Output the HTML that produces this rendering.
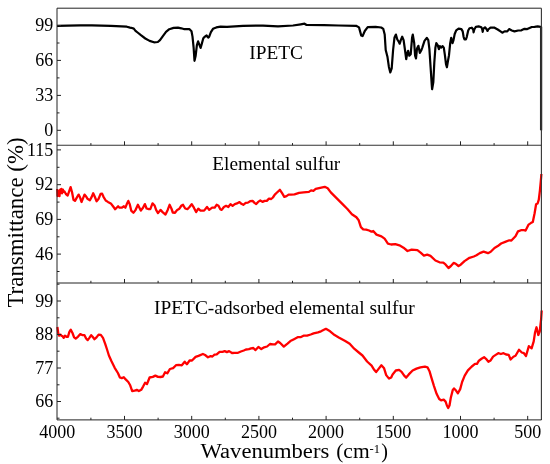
<!DOCTYPE html><html><head><meta charset="utf-8"><style>html,body{margin:0;padding:0;background:#fff;width:550px;height:464px;overflow:hidden}svg{display:block}text{font-family:"Liberation Serif","Times New Roman",serif;fill:#000}</style></head><body><svg width="550" height="464" viewBox="0 0 550 464"><path d="M57.0 25.9L68.0 25.6L80.3 25.4L91.9 25.3L110.8 25.9L126.8 26.7L130.0 27.6L131.2 27.8L133.8 28.6L135.5 30.8L137.6 32.5L140.9 35.2L145.3 38.5L149.6 40.9L154.0 42.3L157.8 42.0L160.0 40.1L162.7 36.3L166.0 31.9L169.3 29.2L173.6 27.9L178.0 27.7L181.3 28.3L184.5 29.2L187.8 29.2L189.3 29.0L191.5 31.2L192.5 36.6L193.6 47.3L194.5 60.8L195.6 56.0L196.9 45.2L198.1 41.4L199.5 45.2L200.6 47.9L201.7 44.1L203.3 38.2L204.9 36.6L206.6 35.5L208.2 37.6L209.2 36.6L210.9 32.2L213.0 28.8L216.3 27.4L220.6 26.6L227.0 26.9L243.0 25.8L263.0 25.6L278.0 26.3L293.0 25.5L300.8 24.3L304.5 23.7L306.6 25.0L324.1 25.2L338.6 25.5L356.1 25.8L359.0 27.4L361.2 35.4L362.6 36.1L364.8 31.0L367.7 27.2L375.6 26.8L381.2 27.5L383.3 28.9L384.7 34.6L385.7 50.0L387.5 57.1L388.9 66.9L390.3 72.5L391.7 68.3L393.1 50.0L394.5 37.4L395.9 34.6L397.3 39.5L398.7 41.6L399.7 43.7L400.8 40.2L402.2 36.7L403.6 40.2L405.0 50.0L406.2 59.2L407.2 53.6L408.1 50.8L409.3 55.7L410.7 54.3L412.1 37.4L412.8 34.6L414.2 43.0L415.1 55.7L416.0 58.5L417.0 48.6L418.4 45.8L419.8 52.9L421.2 50.5L422.3 47.6L424.5 40.8L426.8 37.8L428.3 40.1L429.4 49.2L430.6 67.3L431.8 85.4L432.1 89.2L433.3 82.4L434.3 62.7L435.4 47.6L436.3 43.1L437.8 45.4L438.9 49.2L439.9 46.1L441.1 47.6L442.6 46.1L443.8 47.6L444.9 55.2L446.0 64.2L446.9 67.3L447.9 61.2L449.0 55.2L450.2 43.1L451.2 37.8L452.5 43.1L453.5 40.1L454.7 34.0L456.2 30.3L458.6 28.6L461.4 29.1L462.7 31.4L463.6 36.8L464.5 39.5L465.9 39.5L466.8 36.8L468.2 30.5L469.5 28.2L471.8 27.7L473.2 29.5L473.6 32.3L474.3 29.5L475.9 26.8L478.6 26.4L481.4 27.3L482.3 29.5L482.7 31.8L483.4 28.6L485.0 27.3L486.8 29.5L487.5 30.9L488.2 29.5L490.5 27.7L494.1 27.5L497.7 29.5L500.5 31.4L502.3 32.7L504.5 31.4L507.3 31.4L509.1 29.1L511.8 30.5L514.5 31.4L518.2 30.5L521.4 30.3L524.5 28.8L527.3 29.1L531.8 27.0L534.5 26.8L537.7 26.4L540.5 26.8L541.0 27.5" stroke="#000" stroke-width="2.2" fill="none" stroke-linejoin="round"/><path d="M541.1 26.7V130.3" stroke="#2a2a2a" stroke-width="2.3" fill="none"/><path d="M57.3 189.0L57.6 196.0L58.3 194.7L59.0 191.1L59.5 196.2L60.2 189.6L60.8 192.5L61.4 188.9L62.1 193.3L62.9 189.6L63.6 191.8L64.5 191.5L65.9 194.0L67.7 195.5L69.2 191.1L70.6 187.1L72.1 192.5L73.5 199.8L75.0 200.9L76.8 197.6L78.6 194.6L80.1 197.6L81.5 202.0L83.0 198.4L84.5 194.6L85.9 196.2L87.4 198.7L89.9 200.2L91.7 196.9L93.2 193.3L94.8 196.8L96.6 201.2L98.5 199.0L100.6 193.9L102.1 193.6L103.5 196.8L105.7 200.5L107.9 201.9L110.8 203.4L113.0 206.3L115.2 209.2L118.1 206.3L119.5 207.7L121.7 207.7L123.9 206.3L125.4 207.7L126.8 204.1L128.3 200.9L129.7 204.1L131.2 210.6L133.4 212.8L135.3 210.4L137.9 204.8L140.8 210.6L143.0 207.7L144.9 204.1L146.6 208.5L148.8 209.2L150.3 209.2L152.5 203.4L154.6 205.5L156.1 209.9L158.0 213.1L160.5 209.9L162.6 212.1L165.5 214.6L167.7 209.9L169.6 204.8L171.4 208.5L172.8 212.5L175.0 212.8L177.2 209.9L179.4 208.7L181.5 205.5L183.0 204.8L185.2 208.5L187.4 209.2L189.5 207.0L191.7 204.1L193.9 207.7L196.1 212.1L198.3 208.7L200.5 210.6L204.1 210.6L207.0 207.0L209.2 209.9L212.1 207.7L214.7 207.7L216.6 204.8L218.5 205.8L220.3 209.2L221.7 209.9L223.9 207.0L226.1 205.8L228.3 207.0L230.5 204.1L232.6 205.8L234.8 204.1L237.0 203.4L239.5 202.1L241.4 203.8L243.3 204.8L245.7 202.9L247.9 202.6L250.1 201.2L252.6 200.9L254.5 202.9L256.2 204.1L258.1 201.9L260.3 200.5L262.5 201.9L264.6 200.9L266.8 200.9L269.0 198.6L271.2 199.0L272.9 197.5L274.8 194.6L277.0 192.5L279.9 189.8L282.1 193.2L284.3 196.8L286.5 196.1L288.6 194.6L291.0 194.6L294.5 194.3L299.1 192.8L303.6 192.4L308.9 191.9L311.1 190.4L313.4 190.8L315.7 188.9L320.2 187.8L324.7 186.8L327.7 188.3L330.8 192.4L333.8 195.4L338.3 199.9L342.8 204.4L347.4 209.0L351.9 214.2L356.4 217.3L358.7 220.3L360.9 227.1L363.2 229.3L366.2 229.6L369.1 230.5L371.5 231.7L373.2 231.0L376.5 234.6L381.4 236.3L384.6 238.7L387.9 243.6L391.2 244.5L395.3 244.1L399.4 245.3L403.5 247.7L407.5 251.0L411.6 249.7L417.4 250.2L420.6 252.6L423.9 255.6L427.2 254.6L430.5 255.9L435.4 260.5L439.5 262.3L443.3 262.7L445.5 264.4L448.5 268.0L450.9 266.0L453.6 262.9L455.8 263.8L458.5 266.0L460.7 264.7L464.5 261.1L469.5 257.8L473.8 256.5L476.5 255.3L479.8 253.1L483.6 251.6L485.8 252.4L488.0 253.2L490.7 251.8L494.5 248.0L497.8 246.1L501.1 243.5L505.2 241.9L509.3 240.3L511.4 240.5L515.5 236.2L518.0 231.4L521.0 230.2L524.0 230.2L525.6 230.6L528.6 224.6L530.8 223.1L532.8 222.0L534.6 213.3L536.1 204.2L537.6 203.5L538.8 199.7L539.9 190.6L540.9 180.1L541.4 174.0" stroke="#f00" stroke-width="2.3" fill="none" stroke-linejoin="round"/><path d="M57.4 327.0L58.3 333.5L59.1 335.7L60.5 334.6L61.5 335.7L62.6 336.3L63.7 337.9L65.0 335.7L66.5 336.8L67.9 336.8L69.4 331.9L70.8 329.7L72.5 333.0L74.1 337.4L75.7 338.5L77.9 336.8L80.3 334.1L82.8 335.2L84.5 335.2L86.1 338.5L87.7 340.1L89.4 337.9L91.2 335.2L92.6 336.8L94.5 339.2L96.5 337.4L98.6 334.6L100.8 334.9L103.0 337.9L105.2 343.9L107.2 350.0L108.9 355.5L111.5 361.3L114.7 367.8L117.9 373.0L119.9 377.5L121.8 378.1L123.8 377.2L125.7 379.4L128.3 382.0L130.2 385.3L132.2 391.1L134.7 390.7L136.7 389.8L138.9 391.1L141.2 389.8L143.1 386.6L145.1 382.7L147.0 384.0L149.6 377.5L152.8 376.9L155.4 375.6L158.0 376.9L160.5 377.0L162.9 376.5L165.1 372.2L167.3 373.3L169.9 369.0L173.1 368.1L176.0 365.2L178.9 364.9L181.8 365.3L184.7 361.7L186.9 364.2L189.8 360.3L192.0 360.5L195.6 356.9L198.5 355.9L202.9 354.0L205.1 355.0L208.0 357.3L210.2 356.2L212.4 356.5L214.5 354.7L216.7 354.4L219.6 351.8L222.5 351.8L224.7 351.1L226.9 352.1L229.1 351.1L232.0 353.0L234.9 352.8L238.0 352.8L240.9 351.5L243.8 350.5L246.0 349.5L248.9 349.1L251.1 348.3L253.3 348.0L255.5 350.1L258.4 346.9L261.3 349.1L264.2 347.3L267.1 346.5L270.0 344.0L272.9 344.4L275.1 344.4L278.0 341.5L280.2 343.0L283.8 346.6L287.5 343.6L290.4 341.1L294.0 339.2L297.6 337.2L300.5 337.2L303.5 335.7L307.1 335.7L310.7 334.5L313.6 333.4L318.0 332.4L321.0 331.3L325.9 328.8L330.1 331.3L334.6 335.1L339.2 337.8L345.2 341.1L349.7 343.8L354.2 348.7L358.8 352.5L362.5 355.5L367.1 361.5L371.6 365.6L374.2 369.8L376.1 372.1L378.4 369.1L381.4 365.3L384.1 368.3L386.2 375.1L389.0 378.6L391.2 377.4L392.6 374.4L395.8 370.5L399.1 369.9L401.6 371.8L404.2 375.7L406.2 377.6L408.8 374.4L412.6 370.5L416.5 368.6L420.4 367.3L424.9 366.6L427.5 367.3L429.5 371.2L431.4 377.6L434.0 386.1L436.6 393.8L439.2 399.0L441.1 400.3L443.7 399.6L445.6 401.6L446.9 405.5L448.2 408.0L449.5 405.5L450.8 397.7L452.8 389.9L454.0 388.4L456.0 390.6L457.9 393.2L460.2 389.1L462.1 382.0L464.7 375.6L467.9 370.4L471.8 366.5L475.0 363.9L477.0 363.9L478.9 360.7L481.5 358.8L484.1 357.2L486.0 358.8L488.4 361.7L490.6 360.4L493.1 356.6L495.7 354.9L498.3 353.2L500.9 354.0L503.5 353.2L506.1 354.5L508.7 354.9L510.6 359.5L513.4 356.7L515.5 355.8L519.0 349.7L521.8 352.5L523.9 353.2L526.0 356.0L528.8 346.2L531.6 348.3L533.7 341.3L535.1 332.2L536.5 327.3L538.3 335.0L539.7 331.5L541.1 319.6L541.7 310.5" stroke="#f00" stroke-width="2.3" fill="none" stroke-linejoin="round"/><path d="M57.0 8.2H541.4" stroke="#222" stroke-width="1" fill="none"/><path d="M57.0 8.2V419.9" stroke="#222" stroke-width="1" fill="none"/><path d="M541.4 8.2V419.9" stroke="#333" stroke-width="1.1" fill="none"/><path d="M57.0 145.3H541.4" stroke="#333" stroke-width="1.1" fill="none"/><path d="M57.0 283.0H541.4" stroke="#222" stroke-width="1" fill="none"/><path d="M57.0 419.9H541.4" stroke="#222" stroke-width="1" fill="none"/><path d="M90.9 145.3V143.1M124.5 145.3V141.3M158.1 145.3V143.1M191.7 145.3V141.3M225.3 145.3V143.1M258.9 145.3V141.3M292.5 145.3V143.1M326.1 145.3V141.3M359.7 145.3V143.1M393.3 145.3V141.3M426.9 145.3V143.1M460.5 145.3V141.3M494.1 145.3V143.1M527.7 145.3V141.3M90.9 283.0V280.8M124.5 283.0V279.0M158.1 283.0V280.8M191.7 283.0V279.0M225.3 283.0V280.8M258.9 283.0V279.0M292.5 283.0V280.8M326.1 283.0V279.0M359.7 283.0V280.8M393.3 283.0V279.0M426.9 283.0V280.8M460.5 283.0V279.0M494.1 283.0V280.8M527.7 283.0V279.0M90.9 419.9V417.7M124.5 419.9V415.9M158.1 419.9V417.7M191.7 419.9V415.9M225.3 419.9V417.7M258.9 419.9V415.9M292.5 419.9V417.7M326.1 419.9V415.9M359.7 419.9V417.7M393.3 419.9V415.9M426.9 419.9V417.7M460.5 419.9V415.9M494.1 419.9V417.7M527.7 419.9V415.9M57.0 25.5H61.0M57.0 60.4H61.0M57.0 95.4H61.0M57.0 130.3H61.0M57.0 43.0H59.5M57.0 77.9H59.5M57.0 112.9H59.5M57.0 149.9H61.0M57.0 184.7H61.0M57.0 219.4H61.0M57.0 254.1H61.0M57.0 167.3H59.5M57.0 202.1H59.5M57.0 236.8H59.5M57.0 271.5H59.5M57.0 301.0H61.0M57.0 334.5H61.0M57.0 368.0H61.0M57.0 401.5H61.0M57.0 284.2H59.5M57.0 317.8H59.5M57.0 351.2H59.5M57.0 384.8H59.5M57.0 418.2H59.5" stroke="#222" stroke-width="1" fill="none"/><text x="53.3" y="31.2" text-anchor="end" font-size="18">99</text><text x="53.3" y="66.1" text-anchor="end" font-size="18">66</text><text x="53.3" y="101.1" text-anchor="end" font-size="18">33</text><text x="53.3" y="136.0" text-anchor="end" font-size="18">0</text><text x="53.3" y="155.6" text-anchor="end" font-size="18">115</text><text x="53.3" y="190.4" text-anchor="end" font-size="18">92</text><text x="53.3" y="225.1" text-anchor="end" font-size="18">69</text><text x="53.3" y="259.8" text-anchor="end" font-size="18">46</text><text x="53.3" y="306.7" text-anchor="end" font-size="18">99</text><text x="53.3" y="340.2" text-anchor="end" font-size="18">88</text><text x="53.3" y="373.7" text-anchor="end" font-size="18">77</text><text x="53.3" y="407.2" text-anchor="end" font-size="18">66</text><text x="57.3" y="438" text-anchor="middle" font-size="18">4000</text><text x="124.5" y="438" text-anchor="middle" font-size="18">3500</text><text x="191.7" y="438" text-anchor="middle" font-size="18">3000</text><text x="258.9" y="438" text-anchor="middle" font-size="18">2500</text><text x="326.1" y="438" text-anchor="middle" font-size="18">2000</text><text x="393.3" y="438" text-anchor="middle" font-size="18">1500</text><text x="460.5" y="438" text-anchor="middle" font-size="18">1000</text><text x="527.7" y="438" text-anchor="middle" font-size="18">500</text><text x="249.3" y="58.6" font-size="19.3">IPETC</text><text x="212.3" y="170.3" font-size="19.3">Elemental sulfur</text><text x="154" y="313.7" font-size="19.4">IPETC-adsorbed elemental sulfur</text><text x="200.6" y="457.8" font-size="20.5" textLength="128.6" lengthAdjust="spacingAndGlyphs">Wavenumbers</text><text x="336.2" y="457.8" font-size="20.3" textLength="33.4" lengthAdjust="spacingAndGlyphs">(cm</text><text x="369.6" y="453.4" font-size="12.5">-1</text><text x="381.2" y="457.8" font-size="20.1">)</text><text transform="translate(22.6,307.6) rotate(-90)" font-size="22.4" textLength="170.3" lengthAdjust="spacingAndGlyphs">Transmittance (%)</text></svg></body></html>
